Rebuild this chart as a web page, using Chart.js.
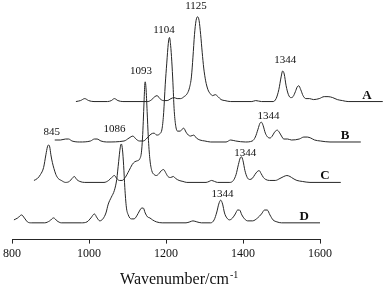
<!DOCTYPE html>
<html>
<head>
<meta charset="utf-8">
<script src="https://cdn.jsdelivr.net/npm/chart.js@4.4.1/dist/chart.umd.min.js"></script>
<style>
  html, body { margin: 0; padding: 0; background: #fff; }
</style>
</head>
<body>
<canvas id="chart" width="384" height="286"></canvas>
<script>
// spectra, each in its own wavenumber frame (cm-1), intensity above its own baseline
const waveA = [803, 815, 826, 836, 850, 885, 895, 903, 912, 925, 990, 1000, 1008, 1014, 1021, 1030, 1040, 1050, 1058, 1066, 1075, 1084, 1092, 1098, 1103, 1107, 1111, 1115, 1119, 1123, 1127, 1131, 1135, 1140, 1146, 1152, 1158, 1165, 1172, 1180, 1190, 1205, 1260, 1270, 1285, 1315, 1323, 1330, 1336, 1340, 1344, 1349, 1355, 1361, 1367, 1373, 1378, 1382, 1387, 1393, 1400, 1410, 1420, 1435, 1448, 1458, 1470, 1482, 1495, 1510, 1600];
const intA  = [0, 1, 3, 1, 0, 0, 1, 3, 1, 0, 0, 2, 5, 6, 3, 1, 1, 3, 4, 3, 3, 5, 8, 14, 25, 45, 68, 82, 86, 82, 68, 50, 34, 21, 12, 8, 6, 7, 5, 2, 1, 0, 0, 1, 0, 0, 3, 12, 25, 31, 28, 16, 7, 4, 5, 10, 15, 16, 12, 6, 3, 3, 2, 3, 5, 5, 4, 2, 1, 0, 0];

const waveB = [805, 820, 833, 841, 850, 870, 898, 908, 915, 925, 940, 985, 998, 1008, 1016, 1025, 1035, 1045, 1055, 1063, 1070, 1077, 1084, 1088, 1092, 1096, 1100, 1103, 1106, 1109, 1112, 1115, 1119, 1124, 1131, 1136, 1140, 1146, 1152, 1158, 1166, 1173, 1182, 1195, 1210, 1250, 1262, 1275, 1300, 1318, 1326, 1333, 1338, 1342, 1346, 1352, 1358, 1364, 1370, 1376, 1383, 1388, 1394, 1400, 1410, 1420, 1440, 1452, 1461, 1470, 1480, 1495, 1520, 1600];
const intB  = [2, 2, 3, 3, 1, 0, 1, 3, 3, 1, 0, 1, 4, 6, 3, 1, 1, 4, 8, 9, 7, 8, 14, 30, 58, 80, 100, 106, 98, 82, 60, 34, 17, 11, 11, 13, 14, 10, 7, 6, 7, 4, 2, 1, 0, 0, 2, 1, 0, 1, 5, 13, 19, 20, 17, 9, 5, 4, 6, 10, 12, 10, 6, 3, 3, 2, 3, 5, 5, 4, 2, 1, 0, 0];

const waveC = [803, 812, 820, 828, 834, 838, 841, 844, 847, 851, 855, 860, 866, 874, 885, 895, 902, 908, 914, 922, 935, 985, 997, 1005, 1012, 1018, 1025, 1032, 1040, 1050, 1058, 1065, 1072, 1078, 1082, 1085, 1087, 1089, 1091, 1092, 1094, 1097, 1100, 1104, 1109, 1115, 1121, 1128, 1134, 1140, 1145, 1151, 1158, 1165, 1171, 1180, 1190, 1200, 1250, 1258, 1264, 1272, 1280, 1312, 1321, 1328, 1334, 1339, 1342, 1346, 1351, 1357, 1363, 1370, 1377, 1383, 1388, 1393, 1399, 1405, 1415, 1430, 1442, 1452, 1460, 1468, 1476, 1486, 1500, 1520, 1600];
const intC  = [2, 4, 8, 15, 28, 36, 38, 36, 28, 20, 14, 8, 4, 2, 0, 1, 4, 6, 3, 1, 0, 0, 2, 5, 7, 4, 2, 2, 5, 12, 18, 21, 22, 24, 30, 45, 62, 82, 100, 102, 96, 72, 46, 24, 12, 8, 7, 9, 12, 13, 10, 6, 5, 6, 4, 2, 1, 0, 0, 1, 2, 1, 0, 0, 2, 8, 18, 25, 26, 22, 12, 5, 3, 4, 8, 11, 12, 9, 5, 3, 2, 2, 4, 6, 7, 6, 4, 2, 1, 0, 0];

const waveD = [805, 815, 825, 832, 840, 850, 885, 898, 908, 917, 928, 980, 995, 1005, 1014, 1021, 1028, 1036, 1044, 1050, 1058, 1066, 1072, 1077, 1081, 1084, 1087, 1090, 1093, 1097, 1102, 1110, 1117, 1124, 1131, 1137, 1141, 1146, 1152, 1158, 1165, 1175, 1190, 1252, 1262, 1270, 1280, 1292, 1316, 1325, 1332, 1337, 1342, 1347, 1352, 1358, 1365, 1373, 1380, 1386, 1391, 1397, 1404, 1412, 1425, 1438, 1448, 1456, 1463, 1470, 1478, 1488, 1500, 1600];
const intD  = [3, 5, 8, 5, 1, 0, 0, 2, 5, 2, 0, 0, 1, 5, 9, 5, 2, 4, 10, 19, 26, 33, 44, 62, 76, 80, 74, 58, 36, 16, 8, 4, 4, 7, 12, 15, 15, 10, 6, 5, 3, 1, 0, 0, 1, 2, 1, 0, 0, 3, 11, 19, 23, 19, 10, 5, 3, 5, 9, 13, 13, 8, 4, 2, 2, 5, 9, 13, 13, 8, 3, 1, 0, 0];

const traceNames = ["A", "B", "C", "D"];
const xTicks = [800, 1000, 1200, 1400, 1600];

// peak labels: trace, text, where it sits (own wavenumber, height above baseline)
const peakTrace = ["A", "B", "C", "A", "C", "D", "B", "C", "D"];
const peakText  = ["1125", "1104", "1093", "1344", "845", "1086", "1344", "1344", "1344"];
const peakAt    = [1115, 1089, 1081, 1347, 849, 1066, 1360, 1352, 1347];
const peakLift  = [94, 111, 110, 39, 48, 92, 23, 27, 26];

// waterfall offsets of each trace
const shiftX = { A: 163, B: 106, C: 54, D: 0 };
const baseY = { A: 140, B: 99, C: 58, D: 17 };
const letterAt = 1559;

const traces = { A: [waveA, intA], B: [waveB, intB], C: [waveC, intC], D: [waveD, intD] };
const serif = "'Liberation Serif', 'DejaVu Serif', serif";
const ink = "#262626";

const labelPlugin = {
  id: "labels",
  afterDatasetsDraw(chart) {
    const { ctx, scales: { x, y } } = chart;
    ctx.save();
    ctx.fillStyle = "#111";
    ctx.textAlign = "center";
    ctx.textBaseline = "alphabetic";
    ctx.font = "11px " + serif;
    peakText.forEach((t, i) => {
      const n = peakTrace[i];
      ctx.fillText(t, x.getPixelForValue(peakAt[i] + shiftX[n]), y.getPixelForValue(peakLift[i] + baseY[n]));
    });
    ctx.font = "bold 13px " + serif;
    traceNames.forEach(n => {
      ctx.fillText(n, x.getPixelForValue(letterAt + shiftX[n]), y.getPixelForValue(baseY[n] + 3));
    });
    // axis title with superscript
    const main = "Wavenumber/cm", sup = "-1";
    ctx.font = "16px " + serif;
    const w1 = ctx.measureText(main).width;
    ctx.font = "10px " + serif;
    const w2 = ctx.measureText(sup).width;
    const cx = x.getPixelForValue(1233);
    const left = cx - (w1 + w2) / 2;
    const base = chart.height - 2;
    ctx.textAlign = "left";
    ctx.font = "16px " + serif;
    ctx.fillText(main, left, base);
    ctx.font = "10px " + serif;
    ctx.fillText(sup, left + w1 + 1, base - 6);
    ctx.restore();
  },
};

new Chart(document.getElementById("chart"), {
  type: "line",
  data: {
    datasets: traceNames.map(n => ({
      label: n,
      data: traces[n][0].map((w, i) => ({ x: w + shiftX[n], y: traces[n][1][i] + baseY[n] })),
      borderColor: ink,
      borderWidth: 1,
      pointRadius: 0,
      cubicInterpolationMode: "monotone",
      fill: false,
      clip: false,
    })),
  },
  options: {
    responsive: false,
    animation: false,
    devicePixelRatio: 1,
    events: [],
    layout: { padding: { left: 10, right: 64, top: 0, bottom: 22 } },
    plugins: { legend: { display: false }, tooltip: { enabled: false } },
    scales: {
      x: {
        type: "linear",
        afterDataLimits: (s) => { s.min = 800; s.max = 1600; },
        afterBuildTicks: (s) => { s.ticks = xTicks.map(v => ({ value: v })); },
        ticks: { color: "#111", font: { family: serif, size: 12 }, padding: 3, maxRotation: 0, callback: (v) => String(v) },
        grid: { drawOnChartArea: false, drawTicks: true, tickLength: 4, color: ink },
        border: { color: ink, width: 1 },
      },
      y: { display: false, min: 0, max: 243 },
    },
  },
  plugins: [labelPlugin],
});
</script>
</body>
</html>
